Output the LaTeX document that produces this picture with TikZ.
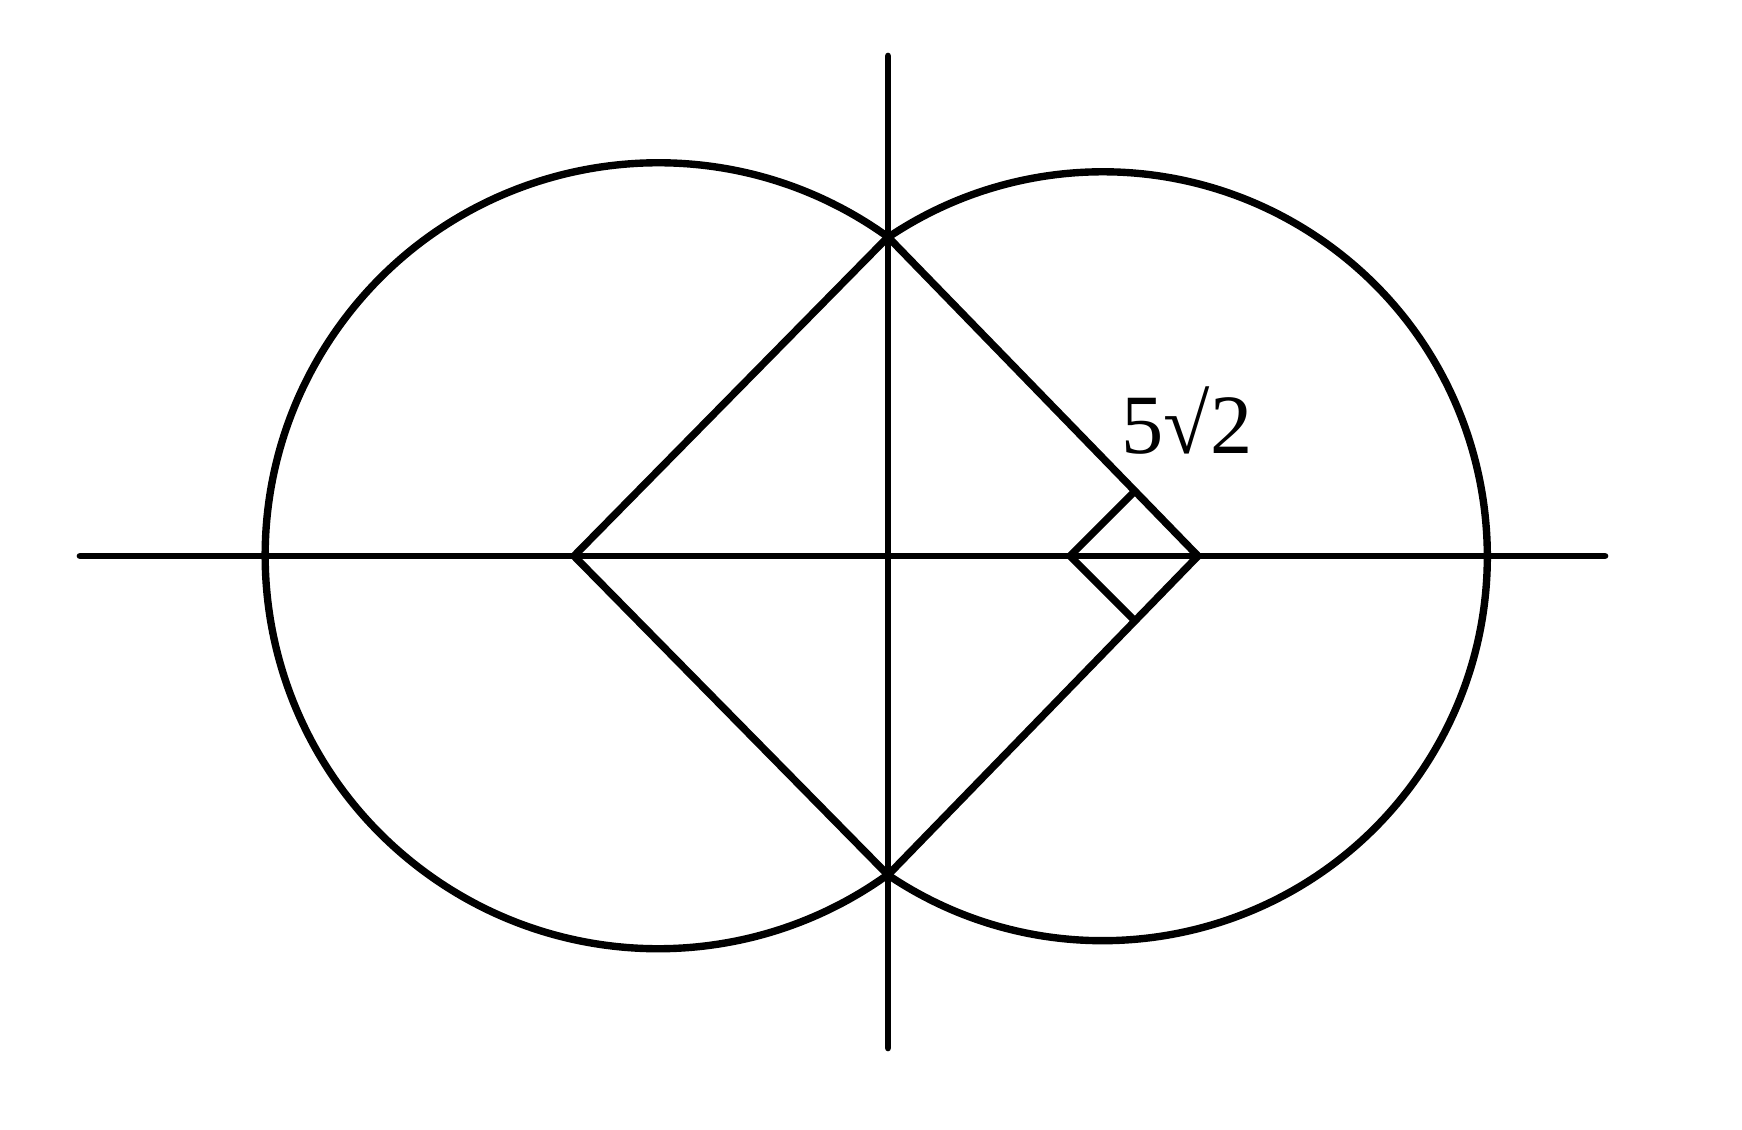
\documentclass[tikz,border=0pt]{standalone}
\usepackage{fontspec}
\setmainfont{Liberation Serif}
\usetikzlibrary{calc,positioning}

\begin{document}
\begin{tikzpicture}[x=0.01cm,y=0.01cm,line cap=round,line join=round,
  axis/.style={line width=1.9pt},
  ring/.style={line width=2.1pt},
  edge/.style={line width=2.1pt}]
\useasboundingbox (0,0) rectangle (1742,1129);
% axes
\coordinate (O) at (888,573);
\coordinate (xl) at (80,573);
\coordinate (xr) at (1605,573);
\coordinate (yb) at (888,81);
\coordinate (yt) at (888,1073);
\draw[axis] (xl) -- (xr);
\draw[axis] (yb) -- (yt);
% the two circles, outer arcs only
\coordinate (C1) at (658,573);
\coordinate (C2) at (1103,573);
\coordinate (T) at (888,892);
\coordinate (B) at (888,254);
\draw[ring] let \p1=($(T)-(C1)$), \n1={atan2(\y1,\x1)}, \n2={veclen(\x1,\y1)}
  in (T) arc[start angle=\n1, end angle=360-\n1, radius=\n2];
\draw[ring] let \p1=($(T)-(C2)$), \n1={atan2(\y1,\x1)}, \n2={veclen(\x1,\y1)}
  in (B) arc[start angle=-\n1, end angle=\n1, radius=\n2];
% square through the common points
\coordinate (L) at (574,573);
\coordinate (R) at (1198,573);
\draw[edge] (L) -- (T) -- (R) -- (B) -- cycle;
% small square at R
\coordinate (s1) at ($(R)+(-64,64)$);
\coordinate (s2) at ($(R)+(-128,0)$);
\coordinate (s3) at ($(R)+(-64,-64)$);
\draw[edge] (s1) -- (s2) -- (s3);
\node[font=\fontsize{24}{28}\selectfont] (lab) at (1187,708) {5√2};
\end{tikzpicture}
\end{document}
